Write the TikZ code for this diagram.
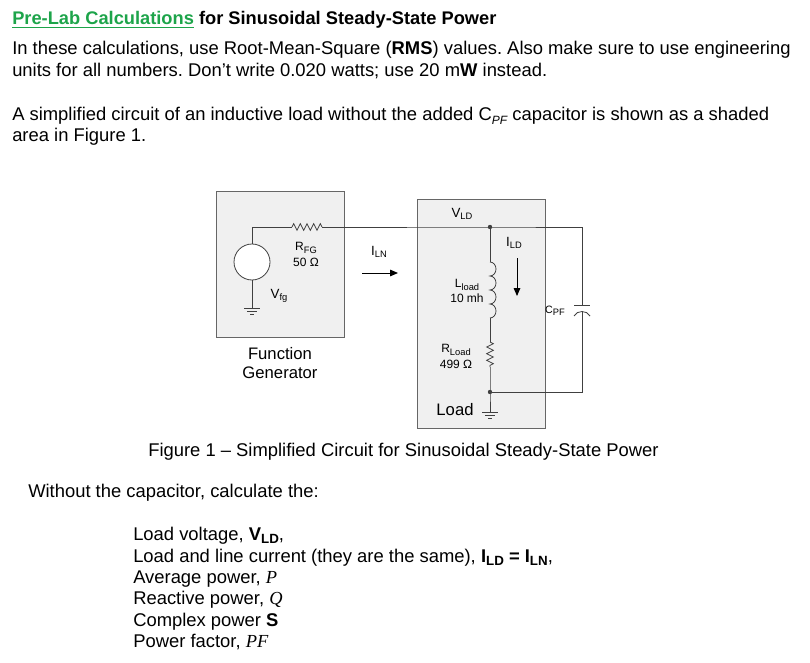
\documentclass[tikz,border=0pt]{standalone}
\usepackage{fontspec}
\setmainfont{Liberation Sans}
\newfontfamily\serifit{Liberation Serif}
\usetikzlibrary{decorations.pathmorphing,arrows.meta,calc}
\newcommand{\lsub}[1]{\raisebox{-0.35ex}{\fontsize{7}{8}\selectfont #1}}
\newcommand{\bsub}[1]{\raisebox{-0.35ex}{\fontsize{10}{11}\selectfont\bfseries #1}}
\frenchspacing
\begin{document}
\begin{tikzpicture}[x=0.75pt,y=-0.75pt,
  txt/.style={anchor=base west,inner sep=0,font=\fontsize{13.8}{15}\selectfont},
  lbl/.style={inner sep=0,font=\fontsize{8}{9}\selectfont,align=center},
  wire/.style={draw=black!75,line width=0.6pt},
  shade/.style={draw=black!60,fill=black!6,line width=0.7pt}]
\useasboundingbox (0,0) rectangle (810,663);
% text
\node[txt,font=\fontsize{13.7}{15}\selectfont\bfseries] (title) at (12,25) {\textcolor[HTML]{1DA44A}{\underline{Pre-Lab Calculations}} for Sinusoidal Steady-State Power};
\node[txt] (p1) at (12,55) {In these calculations, use Root-Mean-Square (\textbf{RMS}) values. Also make sure to use engineering};
\node[txt] (p2) at (12,77) {units for all numbers. Don’t write 0.020 watts; use 20 m\textbf{W} instead.};
\node[txt] (p3) at (12,121) {A simplified circuit of an inductive load without the added C\lsub{\fontsize{9}{10}\selectfont\itshape PF} capacitor is shown as a shaded};
\node[txt] (p4) at (12,142) {area in Figure 1.};
\node[txt] (cap) at (148,456) {Figure 1 – Simplified Circuit for Sinusoidal Steady-State Power};
\node[txt] (w) at (28,497) {Without the capacitor, calculate the:};
\node[txt] (l1) at (133,540) {Load voltage, \textbf{V}\bsub{LD},};
\node[txt] (l2) at (133,562) {Load and line current (they are the same), \textbf{I}\bsub{LD} \textbf{= I}\bsub{LN},};
\node[txt] (l3) at (133,583) {Average power, {\serifit\itshape P}};
\node[txt] (l4) at (133,604) {Reactive power, {\serifit\itshape Q}};
\node[txt] (l5) at (133,626) {Complex power \textbf{S}};
\node[txt] (l6) at (133,647) {Power factor, {\serifit\itshape PF}};
% boxes
\draw[shade] (216,191) rectangle (344,337);
\draw[shade] (417,199) rectangle (545,428);
% coordinates
\coordinate (sTop) at (252,227);
\coordinate (r1a) at (292,227);
\coordinate (r1b) at (322,227);
\coordinate (nTop) at (490,227);
\coordinate (cTop) at (582,227);
\coordinate (Ltop) at (490,262);
\coordinate (Lbot) at (490,318);
\coordinate (Rtop) at (490,342);
\coordinate (Rbot) at (490,367);
\coordinate (nBot) at (490,392);
\coordinate (cBot) at (582,392);
\coordinate (c1) at (582,305);
\coordinate (c2) at (582,311);
\coordinate (g1) at (252,308);
\coordinate (g2) at (490,412);
\node[circle,draw=black!75,fill=white,line width=0.6pt,inner sep=0,minimum size=27pt] (src) at (252,262) {};
% wires
\draw[wire] (src.north) -- (sTop) -- (r1a);
\draw[wire,decorate,decoration={zigzag,segment length=5pt,amplitude=2.5pt}] (r1a) -- (r1b);
\draw[wire] (r1b) -- (nTop) -- (cTop) -- (c1);
\draw[wire] (nTop) -- (Ltop);
\draw[wire] (Ltop) \foreach \i in {0,1,2,3} { arc[start angle=-90,end angle=90,x radius=4.5pt,y radius=-5.25pt] };
\draw[wire] (Lbot) -- (Rtop);
\draw[wire,decorate,decoration={zigzag,segment length=5pt,amplitude=2.5pt}] (Rtop) -- (Rbot);
\draw[wire] (Rbot) -- (nBot) -- (g2);
\draw[wire] (nBot) -- (cBot) -- (c2);
\draw[wire] (574,305) -- (590,305);
\draw[wire] (574,316) .. controls (577,310) and (587,310) .. (590,316);
\draw[wire] (src.south) -- (g1);
\foreach \g in {g1,g2}{
 \draw[wire] ($(\g)+(-8,0)$) -- ($(\g)+(8,0)$);
 \draw[wire] ($(\g)+(-5,3)$) -- ($(\g)+(5,3)$);
 \draw[wire] ($(\g)+(-2,6)$) -- ($(\g)+(2,6)$);}
\fill[black!75] (nTop) circle (2.2);
\fill[black!75] (nBot) circle (2.2);
% arrows
\coordinate (aL1) at (362,273); \coordinate (aL2) at (398,273);
\draw[line width=0.7pt,-{Triangle[length=6pt,width=5pt]}] (aL1) -- (aL2);
\coordinate (aD1) at (517,258); \coordinate (aD2) at (517,296);
\draw[line width=0.7pt,-{Triangle[length=6pt,width=5pt]}] (aD1) -- (aD2);
% labels
\node[lbl,font=\fontsize{10}{11}\selectfont] (vld) at (462,214) {V\lsub{LD}};
\node[lbl,font=\fontsize{10}{11}\selectfont] (ild) at (514,243) {I\lsub{LD}};
\node[lbl,font=\fontsize{10}{11}\selectfont] (iln) at (379,252) {I\lsub{LN}};
\node[lbl,font=\fontsize{9}{10}\selectfont] (rfg) at (306,248) {R\lsub{FG}};
\node[lbl,font=\fontsize{9}{10}\selectfont] (rfgv) at (306,262) {50 Ω};
\node[lbl,font=\fontsize{10}{11}\selectfont] (vfg) at (279,296) {V\lsub{fg}};
\node[lbl,font=\fontsize{9}{10}\selectfont] (ll) at (467,285) {L\lsub{load}};
\node[lbl,font=\fontsize{9}{10}\selectfont] (llv) at (467,298) {10 mh};
\node[lbl] (cpf) at (555,311) {C\lsub{PF}};
\node[lbl,font=\fontsize{9}{10}\selectfont] (rl) at (456,350) {R\lsub{Load}};
\node[lbl,font=\fontsize{9}{10}\selectfont] (rlv) at (456,364) {499 Ω};
\node[lbl,font=\fontsize{12.5}{14}\selectfont] (load) at (455,410) {Load};
\node[lbl,font=\fontsize{12.5}{14.5}\selectfont,align=center] (fg) at (280,363) {Function\\Generator};
\end{tikzpicture}
\end{document}
